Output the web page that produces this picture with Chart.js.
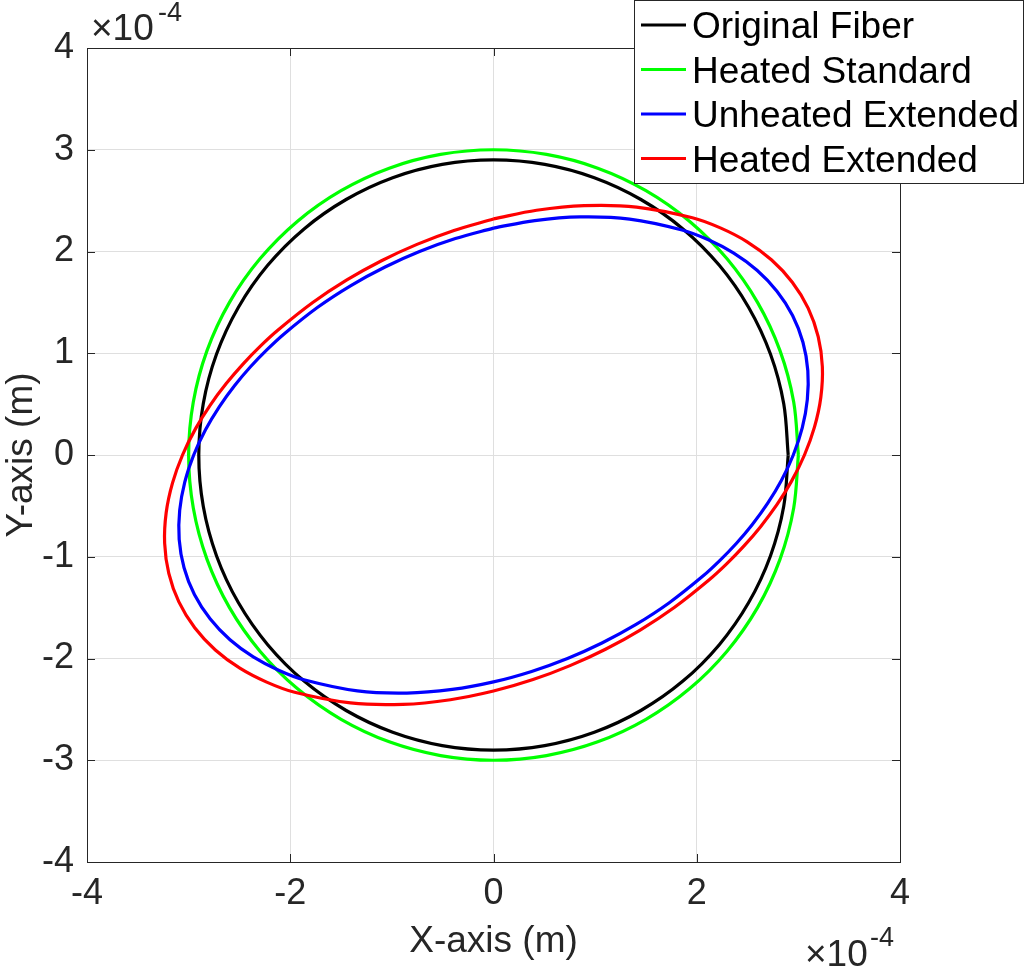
<!DOCTYPE html>
<html>
<head>
<meta charset="utf-8">
<title>Fiber cross-section</title>
<script src="https://cdn.jsdelivr.net/npm/chart.js@4"></script>
<style>
  html, body { margin: 0; padding: 0; background: #ffffff; }
  #wrap { width: 1025px; height: 968px; }
</style>
</head>
<body>
<div id="wrap"><canvas id="graficoFibra" width="1025" height="968"></canvas></div>
<script>
// Pontos das curvas, em unidades de 1e-4 m
// Círculos: a cada 10 graus, começando em 0 graus
const originalX = [2.900, 2.856, 2.725, 2.511, 2.222, 1.864, 1.450, 0.992, 0.504, 0, -0.504, -0.992, -1.450, -1.864, -2.222, -2.511, -2.725, -2.856,
  -2.900, -2.856, -2.725, -2.511, -2.222, -1.864, -1.450, -0.992, -0.504, 0, 0.504, 0.992, 1.450, 1.864, 2.222, 2.511, 2.725, 2.856, 2.900];
const originalY = [0, 0.504, 0.992, 1.450, 1.864, 2.222, 2.511, 2.725, 2.856, 2.900, 2.856, 2.725, 2.511, 2.222, 1.864, 1.450, 0.992, 0.504,
  0, -0.504, -0.992, -1.450, -1.864, -2.222, -2.511, -2.725, -2.856, -2.900, -2.856, -2.725, -2.511, -2.222, -1.864, -1.450, -0.992, -0.504, 0];

const heatedStdX = [3.000, 2.954, 2.819, 2.598, 2.298, 1.928, 1.500, 1.026, 0.521, 0, -0.521, -1.026, -1.500, -1.928, -2.298, -2.598, -2.819, -2.954,
  -3.000, -2.954, -2.819, -2.598, -2.298, -1.928, -1.500, -1.026, -0.521, 0, 0.521, 1.026, 1.500, 1.928, 2.298, 2.598, 2.819, 2.954, 3.000];
const heatedStdY = [0, 0.521, 1.026, 1.500, 1.928, 2.298, 2.598, 2.819, 2.954, 3.000, 2.954, 2.819, 2.598, 2.298, 1.928, 1.500, 1.026, 0.521,
  0, -0.521, -1.026, -1.500, -1.928, -2.298, -2.598, -2.819, -2.954, -3.000, -2.954, -2.819, -2.598, -2.298, -1.928, -1.500, -1.026, -0.521, 0];

// Elipses: começam no topo (x = 0), pontos mais densos nas pontas
const unheatedExtX = [0, -0.375, -0.728, -1.067, -1.399, -1.730, -2.061, -2.226, -2.389, -2.547, -2.697, -2.834,
  -2.950, -3.038, -3.088, -3.093, -3.045, -2.943, -2.789, -2.593, -2.364, -2.115, -1.856, -1.339, -0.852, -0.406,
  0, 0.375, 0.728, 1.067, 1.399, 1.730, 2.061, 2.226, 2.389, 2.547, 2.697, 2.834,
  2.950, 3.038, 3.088, 3.093, 3.045, 2.943, 2.789, 2.593, 2.364, 2.115, 1.856, 1.339, 0.852, 0.406, 0];
const unheatedExtY = [2.230, 2.127, 2.000, 1.848, 1.668, 1.452, 1.190, 1.038, 0.870, 0.683, 0.476, 0.248,
  0, -0.266, -0.545, -0.829, -1.108, -1.372, -1.610, -1.816, -1.984, -2.115, -2.212, -2.319, -2.340, -2.304,
  -2.230, -2.127, -2.000, -1.848, -1.668, -1.452, -1.190, -1.038, -0.870, -0.683, -0.476, -0.248,
  0, 0.266, 0.545, 0.829, 1.108, 1.372, 1.610, 1.816, 1.984, 2.115, 2.212, 2.319, 2.340, 2.304, 2.230];

const heatedExtX = [0, -0.389, -0.753, -1.102, -1.443, -1.782, -2.123, -2.294, -2.463, -2.628, -2.787, -2.933,
  -3.060, -3.159, -3.221, -3.236, -3.195, -3.096, -2.940, -2.737, -2.496, -2.232, -1.957, -1.407, -0.892, -0.424,
  0, 0.389, 0.753, 1.102, 1.443, 1.782, 2.123, 2.294, 2.463, 2.628, 2.787, 2.933,
  3.060, 3.159, 3.221, 3.236, 3.195, 3.096, 2.940, 2.737, 2.496, 2.232, 1.957, 1.407, 0.892, 0.424, 0];
const heatedExtY = [2.320, 2.207, 2.070, 1.909, 1.720, 1.496, 1.226, 1.070, 0.896, 0.704, 0.491, 0.257,
  0, -0.276, -0.568, -0.867, -1.163, -1.444, -1.698, -1.916, -2.095, -2.232, -2.332, -2.437, -2.451, -2.405,
  -2.320, -2.207, -2.070, -1.909, -1.720, -1.496, -1.226, -1.070, -0.896, -0.704, -0.491, -0.257,
  0, 0.276, 0.568, 0.867, 1.163, 1.444, 1.698, 1.916, 2.095, 2.232, 2.332, 2.437, 2.451, 2.405, 2.320];

// Rótulos e eixos
const seriesLabels = ["Original Fiber", "Heated Standard", "Unheated Extended", "Heated Extended"];
const seriesColors = ["#000000", "#00ff00", "#0000ff", "#ff0000"];
const xTitle = "X-axis (m)";
const yTitle = "Y-axis (m)";
const axisMin = -4;
const axisMax = 4;
const exponentText = "-4";

const FONT = "'Liberation Sans', Arial, Helvetica, sans-serif";
const AXIS_COLOR = "#262626";

function toPoints(xs, ys) {
  return xs.map((x, i) => ({ x: x, y: ys[i] }));
}

const seriesData = [
  toPoints(originalX, originalY),
  toPoints(heatedStdX, heatedStdY),
  toPoints(unheatedExtX, unheatedExtY),
  toPoints(heatedExtX, heatedExtY)
];

// Caixa do eixo (estilo MATLAB), marcas internas, legenda e multiplicador x10^-4
const boxPlugin = {
  id: "boxPlugin",
  afterDraw(chart) {
    const { ctx, chartArea: a, scales } = chart;
    ctx.save();

    // Moldura
    ctx.strokeStyle = AXIS_COLOR;
    ctx.lineWidth = 1;
    ctx.strokeRect(a.left + 0.5, a.top + 0.5, a.right - a.left, a.bottom - a.top);

    // Marcas para dentro
    const tickLen = 8;
    ctx.beginPath();
    scales.x.ticks.forEach(t => {
      const px = Math.round(scales.x.getPixelForValue(t.value)) + 0.5;
      ctx.moveTo(px, a.bottom); ctx.lineTo(px, a.bottom - tickLen);
      ctx.moveTo(px, a.top); ctx.lineTo(px, a.top + tickLen);
    });
    scales.y.ticks.forEach(t => {
      const py = Math.round(scales.y.getPixelForValue(t.value)) + 0.5;
      ctx.moveTo(a.left, py); ctx.lineTo(a.left + tickLen, py);
      ctx.moveTo(a.right, py); ctx.lineTo(a.right - tickLen, py);
    });
    ctx.stroke();

    // Multiplicador dos eixos
    ctx.fillStyle = AXIS_COLOR;
    ctx.textAlign = "left";
    ctx.textBaseline = "alphabetic";
    ctx.font = "37px " + FONT;
    ctx.fillText("\u00d710", 91, 40);
    ctx.fillText("\u00d710", 805, 966);
    ctx.font = "27px " + FONT;
    ctx.fillText(exponentText, 158, 21);
    ctx.fillText(exponentText, 870, 946);

    // Legenda
    const lx = 634, ly = 0, lw = 389, lh = 183;
    ctx.fillStyle = "#ffffff";
    ctx.fillRect(lx, ly, lw, lh);
    ctx.strokeStyle = AXIS_COLOR;
    ctx.lineWidth = 1;
    ctx.strokeRect(lx + 0.5, ly + 0.5, lw, lh);
    ctx.font = "37px " + FONT;
    seriesLabels.forEach((label, i) => {
      const y = 25 + i * 44.5;
      ctx.strokeStyle = seriesColors[i];
      ctx.lineWidth = 3;
      ctx.beginPath();
      ctx.moveTo(641, y);
      ctx.lineTo(686, y);
      ctx.stroke();
      ctx.fillStyle = "#000000";
      ctx.fillText(label, 692, y + 13);
    });

    ctx.restore();
  }
};

const ctx = document.getElementById("graficoFibra").getContext("2d");

new Chart(ctx, {
  type: "scatter",
  data: {
    datasets: seriesData.map((pts, i) => ({
      label: seriesLabels[i],
      data: pts,
      showLine: true,
      borderColor: seriesColors[i],
      backgroundColor: seriesColors[i],
      borderWidth: 3.2,
      pointRadius: 0,
      pointHoverRadius: 0,
      tension: 0.335,
      fill: false,
      order: 4 - i // a última série fica por cima
    }))
  },
  options: {
    responsive: false,
    animation: false,
    layout: { padding: { left: 0, right: 125, top: 48, bottom: 0 } },
    plugins: {
      legend: { display: false },
      tooltip: { enabled: false }
    },
    scales: {
      x: {
        type: "linear",
        position: "bottom",
        min: axisMin,
        max: axisMax,
        afterFit: (scale) => { scale.height = 106; },
        ticks: {
          stepSize: 2,
          padding: 10,
          color: AXIS_COLOR,
          font: { size: 36, family: FONT },
          maxRotation: 0,
          callback: (v) => String(v)
        },
        grid: { color: "#dfdfdf", lineWidth: 1, drawTicks: false },
        border: { display: false },
        title: {
          display: true,
          text: xTitle,
          color: AXIS_COLOR,
          font: { size: 37, family: FONT },
          padding: { top: 0, bottom: 4 }
        }
      },
      y: {
        type: "linear",
        position: "left",
        min: axisMin,
        max: axisMax,
        afterFit: (scale) => { scale.width = 87; },
        ticks: {
          stepSize: 1,
          padding: 13,
          color: AXIS_COLOR,
          font: { size: 36, family: FONT },
          callback: (v) => String(v)
        },
        grid: { color: "#dfdfdf", lineWidth: 1, drawTicks: false },
        border: { display: false },
        title: {
          display: true,
          text: yTitle,
          color: AXIS_COLOR,
          font: { size: 37, family: FONT },
          padding: { top: 0, bottom: 0 }
        }
      }
    }
  },
  plugins: [boxPlugin]
});
</script>
</body>
</html>
